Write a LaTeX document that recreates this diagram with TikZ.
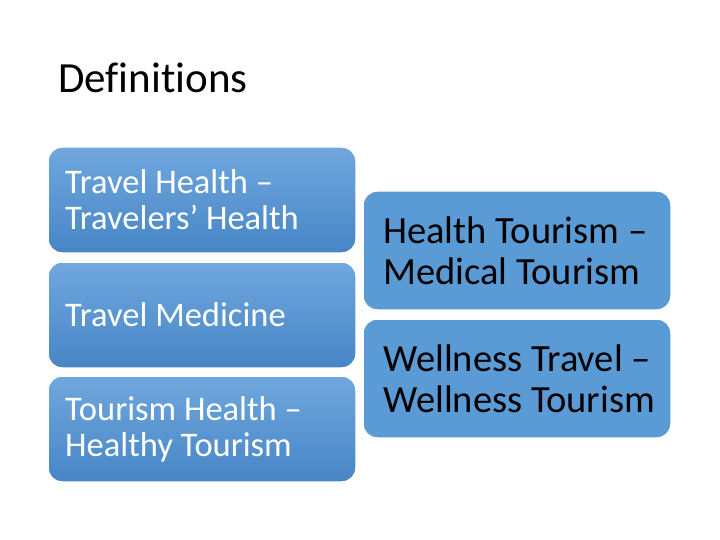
\documentclass[tikz,border=0pt]{standalone}
\usepackage{fontspec}
\setmainfont[Ligatures=NoCommon]{Carlito}
\definecolor{topblue}{HTML}{70A8DE}
\definecolor{botblue}{HTML}{4785C6}
\definecolor{flatblue}{HTML}{5B9BD5}
\begin{document}
\begin{tikzpicture}[x=1pt,y=-1pt,
  leftbox/.style={draw=white,line width=1.5pt,rounded corners=14pt,top color=topblue,bottom color=botblue},
  rightbox/.style={draw=white,line width=1.5pt,rounded corners=14pt,fill=flatblue},
  lefttext/.style={anchor=west,align=left,text=white,font=\fontsize{34.5}{36}\selectfont,inner sep=0pt},
  righttext/.style={anchor=west,align=left,text=black,font=\fontsize{38.5}{41}\selectfont,inner sep=0pt}]
\useasboundingbox (0,0) rectangle (720,540);
\node[anchor=base west,inner sep=0pt,font=\fontsize{43}{46}\selectfont] (title) at (58,93) {Definitions};
\draw[leftbox] (48,147) rectangle (356,253);
\draw[leftbox] (48,262) rectangle (356,368);
\draw[leftbox] (48,376) rectangle (356,482);
\draw[rightbox] (363,191) rectangle (671,310);
\draw[rightbox] (363,319) rectangle (671,438);
\node[lefttext] (t1) at (65,200) {Travel Health –\\Travelers’ Health};
\node[lefttext] (t2) at (65,315) {Travel Medicine};
\node[lefttext] (t3) at (65,429) {Tourism Health –\\Healthy Tourism};
\node[righttext] (t4) at (383,251) {Health Tourism –\\Medical Tourism};
\node[righttext] (t5) at (383,379) {Wellness Travel –\\Wellness Tourism};
\end{tikzpicture}
\end{document}
